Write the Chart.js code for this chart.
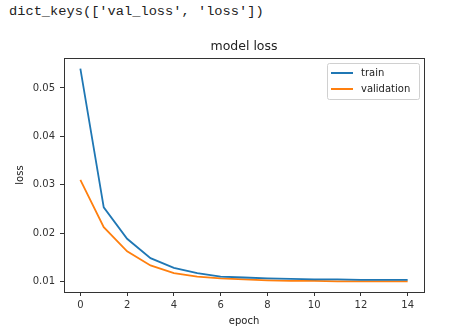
<!DOCTYPE html>
<html>
<head>
<meta charset="utf-8">
<script src="https://cdn.jsdelivr.net/npm/chart.js@4"></script>
<style>
  html, body { margin: 0; padding: 0; background: #fff; }
  #wrap { position: relative; width: 474px; height: 333px; }
  #keys {
    position: absolute; left: 9px; top: 4px;
    font: 13.7px "Liberation Mono", "DejaVu Sans Mono", monospace;
    color: #222; white-space: pre;
  }
  #lossChart { position: absolute; left: 0; top: 0; }
</style>
</head>
<body>
<div id="wrap">
  <div id="keys">dict_keys(['val_loss', 'loss'])</div>
  <canvas id="lossChart" width="474" height="333"></canvas>
</div>
<script>
const epochs = [0, 1, 2, 3, 4, 5, 6, 7, 8, 9, 10, 11, 12, 13, 14];
const trainLoss = [0.0540, 0.0253, 0.0188, 0.0148, 0.0128, 0.0117, 0.0110, 0.0108, 0.0106, 0.0105, 0.0104, 0.0104, 0.0103, 0.0103, 0.0103];
const valLoss = [0.0310, 0.0212, 0.0162, 0.0133, 0.0117, 0.0110, 0.0106, 0.0104, 0.0102, 0.0101, 0.0101, 0.0100, 0.0100, 0.0100, 0.0100];
const xTicks = [0, 2, 4, 6, 8, 10, 12, 14];
const yTicks = [0.01, 0.02, 0.03, 0.04, 0.05];

const toPoints = ys => ys.map((y, i) => ({ x: epochs[i], y }));

// full box around the plot plus an inset legend, matplotlib style
const framePlugin = {
    id: 'frame',
    afterDraw(chart) {
        const { ctx, chartArea: a } = chart;
        ctx.save();
        ctx.strokeStyle = '#333';
        ctx.lineWidth = 1;
        ctx.strokeRect(a.left + 0.5, a.top + 0.5, a.right - a.left, a.bottom - a.top);

        const bw = 92, bh = 36;
        const bx = a.right - 5 - bw, by = a.top + 5;
        ctx.fillStyle = 'rgba(255,255,255,0.8)';
        ctx.strokeStyle = '#d0d0d0';
        ctx.beginPath();
        ctx.roundRect(bx + 0.5, by + 0.5, bw, bh, 2);
        ctx.fill();
        ctx.stroke();

        ctx.font = '10px "DejaVu Sans"';
        ctx.textBaseline = 'middle';
        chart.data.datasets.forEach((ds, i) => {
            const ly = by + 10 + i * 16;
            ctx.strokeStyle = ds.borderColor;
            ctx.lineWidth = 2;
            ctx.beginPath();
            ctx.moveTo(bx + 4, ly);
            ctx.lineTo(bx + 26, ly);
            ctx.stroke();
            ctx.fillStyle = '#222';
            ctx.fillText(ds.label, bx + 34, ly);
        });
        ctx.restore();
    }
};

new Chart(document.getElementById('lossChart').getContext('2d'), {
    type: 'line',
    data: {
        datasets: [
            {
                label: 'train',
                data: toPoints(trainLoss),
                borderColor: '#1f77b4',
                borderWidth: 1.8,
                pointRadius: 0,
                tension: 0,
                fill: false
            },
            {
                label: 'validation',
                data: toPoints(valLoss),
                borderColor: '#ff7f0e',
                borderWidth: 1.8,
                pointRadius: 0,
                tension: 0,
                fill: false
            }
        ]
    },
    options: {
        responsive: false,
        animation: false,
        layout: { padding: { left: 0, top: 39, right: 50, bottom: 0 } },
        plugins: {
            legend: { display: false },
            tooltip: { enabled: false },
            title: {
                display: true,
                fullSize: false,
                text: 'model loss',
                color: '#222',
                font: { family: 'DejaVu Sans', size: 12.5, weight: 'normal' },
                padding: { top: 0, bottom: 4 }
            }
        },
        scales: {
            x: {
                type: 'linear',
                min: -0.7,
                max: 14.7,
                afterBuildTicks: axis => { axis.ticks = xTicks.map(v => ({ value: v })); },
                afterFit: axis => { axis.height = 41; },
                grid: { drawOnChartArea: false, drawTicks: true, tickLength: 4, color: '#333' },
                border: { display: false },
                ticks: {
                    color: '#333',
                    padding: 3,
                    maxRotation: 0,
                    font: { family: 'DejaVu Sans', size: 10 }
                },
                title: {
                    display: true,
                    text: 'epoch',
                    color: '#222',
                    font: { family: 'DejaVu Sans', size: 10 },
                    padding: { top: 0, bottom: 6 }
                }
            },
            y: {
                min: 0.0078,
                max: 0.0562,
                afterBuildTicks: axis => { axis.ticks = yTicks.map(v => ({ value: v })); },
                afterFit: axis => { axis.width = 64; },
                grid: { drawOnChartArea: false, drawTicks: true, tickLength: 4, color: '#333' },
                border: { display: false },
                ticks: {
                    color: '#333',
                    padding: 5,
                    font: { family: 'DejaVu Sans', size: 10 },
                    callback: v => v.toFixed(2)
                },
                title: {
                    display: true,
                    text: 'loss',
                    color: '#222',
                    font: { family: 'DejaVu Sans', size: 10 },
                    padding: { top: 14, bottom: 0 }
                }
            }
        }
    },
    plugins: [framePlugin]
});
</script>
</body>
</html>
